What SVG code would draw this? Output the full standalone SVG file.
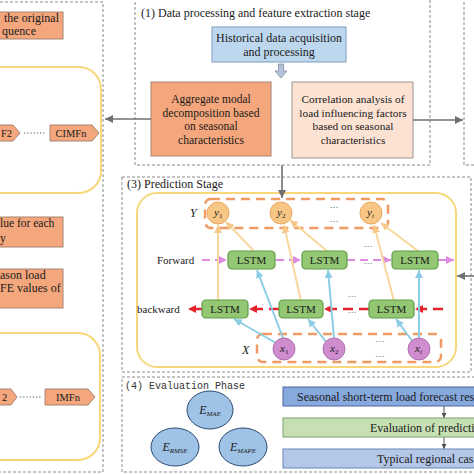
<svg xmlns="http://www.w3.org/2000/svg" width="474" height="474" viewBox="0 0 474 474">
<defs>
<style>
.sec{fill:none;stroke:#8a8a8a;stroke-width:1;stroke-dasharray:3 2}
.t{font-family:"Liberation Serif","Times New Roman",serif;fill:#1a1a1a}
.orange{fill:#f4a77c;stroke:#a88470;stroke-width:1}
.yel{fill:none;stroke:#f7d77a;stroke-width:2}
.lstm{fill:#93c774;stroke:#5e9e48;stroke-width:1.2}
.yc{fill:#f8c684;stroke:#e8a862;stroke-width:1}
.xc{fill:#cf8ccf;stroke:#b070b0;stroke-width:1}
.odash{fill:none;stroke:#ef9b63;stroke-width:2.5;stroke-dasharray:9 6}
.pink{stroke:#dd8ae0;stroke-width:2;stroke-dasharray:8 5;fill:none}
.red{stroke:#e3232b;stroke-width:2.5;stroke-dasharray:10 6;fill:none}
.yl{stroke:#f9d79a;stroke-width:2;fill:none}
.bl{stroke:#8ccde6;stroke-width:2;fill:none}
.grey{stroke:#707070;stroke-width:1.6;fill:none}
.ell{fill:#9fc3e6;stroke:#2b4a70;stroke-width:1}
</style>
<marker id="mg" markerUnits="userSpaceOnUse" markerWidth="8" markerHeight="8" refX="8" refY="4" orient="auto"><path d="M0,0 L8,4 L0,8 z" fill="#707070"/></marker>
<marker id="ms" markerUnits="userSpaceOnUse" markerWidth="5" markerHeight="5" refX="5" refY="2.5" orient="auto"><path d="M0,0 L5,2.5 L0,5 z" fill="#505050"/></marker>
<marker id="mp" markerUnits="userSpaceOnUse" markerWidth="8" markerHeight="8" refX="8" refY="4" orient="auto"><path d="M0,0 L8,4 L0,8 z" fill="#dd8ae0"/></marker>
<marker id="mr" markerUnits="userSpaceOnUse" markerWidth="8" markerHeight="8" refX="8" refY="4" orient="auto"><path d="M0,0 L8,4 L0,8 z" fill="#e3232b"/></marker>
<marker id="my" markerUnits="userSpaceOnUse" markerWidth="8" markerHeight="8" refX="8" refY="4" orient="auto"><path d="M0,0 L8,4 L0,8 z" fill="#f5c98a"/></marker>
<marker id="mb" markerUnits="userSpaceOnUse" markerWidth="8" markerHeight="8" refX="8" refY="4" orient="auto"><path d="M0,0 L8,4 L0,8 z" fill="#8ccde6"/></marker>
</defs>
<rect width="474" height="474" fill="#ffffff"/>

<!-- section frames -->
<g id="frames">
<rect class="sec" x="-5" y="2" width="108" height="470"/>
<rect class="sec" x="135" y="-5" width="295" height="170"/>
<rect class="sec" x="464" y="-5" width="30" height="170"/>
<rect class="sec" x="122" y="177" width="349" height="195"/>
<rect class="sec" x="122" y="377" width="360" height="95"/>
</g>

<!-- left column -->
<g id="left-seq">
<rect class="orange" x="-5" y="12" width="68" height="27"/>
<text class="t" x="4" y="22" font-size="12">the original</text>
<text class="t" x="2" y="35" font-size="12">quence</text>
</g>
<rect class="yel" x="-30" y="67" width="131" height="126" rx="22"/>
<g id="cimf2">
<path class="orange" d="M-5,125 H13 L20,133 L13,141 H-5 Z"/>
<text class="t" x="1" y="137" font-size="10.5">F2</text>
</g>
<line x1="24" y1="133" x2="46" y2="133" stroke="#555" stroke-width="1" stroke-dasharray="1.2 2"/>
<g id="cimfn">
<path class="orange" d="M50,125 H92 L99,133 L92,141 H50 Z"/>
<text class="t" x="71" y="137" font-size="10.5" text-anchor="middle">CIMFn</text>
</g>
<g id="left-value">
<rect class="orange" x="-5" y="217" width="68" height="30"/>
<text class="t" x="0" y="227" font-size="11.5">lue for each</text>
<text class="t" x="0" y="242" font-size="11.5">y</text>
</g>
<g id="left-season">
<rect class="orange" x="-5" y="269" width="68" height="39"/>
<text class="t" x="0" y="279" font-size="12">ason load</text>
<text class="t" x="0" y="292" font-size="12">FE values of</text>
</g>
<rect class="yel" x="-30" y="333" width="130" height="127" rx="22"/>
<g id="imf2">
<path class="orange" d="M-5,389 H11 L17,397 L11,405 H-5 Z"/>
<text class="t" x="2" y="401" font-size="10.5">2</text>
</g>
<line x1="20" y1="397" x2="42" y2="397" stroke="#555" stroke-width="1" stroke-dasharray="1.2 2"/>
<g id="imfn">
<path class="orange" d="M45,389 H88 L95,397 L88,405 H45 Z"/>
<text class="t" x="68" y="401" font-size="10.5" text-anchor="middle">IMFn</text>
</g>

<!-- section 1 -->
<text class="t" x="141" y="17" font-size="12">(1) Data processing and feature extraction stage</text>
<g id="historical">
<rect x="212" y="27" width="134" height="35" fill="#bdd7ee" stroke="#7f9cbc" stroke-width="1"/>
<text class="t" x="279" y="42" font-size="12" text-anchor="middle">Historical data acquisition</text>
<text class="t" x="279" y="56" font-size="12" text-anchor="middle">and processing</text>
</g>
<path d="M278.5,64 H283.5 V71 H287 L281,78 L275,71 H278.5 Z" fill="#b4c2d8" stroke="#7f8fa8" stroke-width="0.8"/>
<g id="aggregate">
<rect x="151" y="82" width="120" height="74" fill="#f4a77c" stroke="#a88470" stroke-width="1"/>
<text class="t" font-size="11.5" text-anchor="middle"><tspan x="211" y="103">Aggregate modal</tspan><tspan x="211" y="117">decomposition based</tspan><tspan x="211" y="130">on seasonal</tspan><tspan x="211" y="144">characteristics</tspan></text>
</g>
<g id="correlation">
<rect x="292" y="82" width="121" height="76" fill="#fbe2d3" stroke="#9c948e" stroke-width="1"/>
<text class="t" font-size="11.3" text-anchor="middle"><tspan x="353" y="103">Correlation analysis of</tspan><tspan x="353" y="117">load influencing factors</tspan><tspan x="353" y="130">based on seasonal</tspan><tspan x="353" y="144">characteristics</tspan></text>
</g>

<!-- section 3 -->
<text class="t" x="127" y="188" font-size="12">(3) Prediction Stage</text>
<rect class="yel" x="137" y="193" width="319" height="174" rx="20"/>
<rect class="odash" x="205" y="199" width="183" height="29" rx="6"/>
<rect class="odash" x="257" y="334" width="184" height="28" rx="6"/>
<text class="t" x="190" y="217" font-size="12" font-style="italic">Y</text>
<text class="t" x="242" y="354" font-size="12" font-style="italic">X</text>
<text class="t" x="157" y="264" font-size="11">Forward</text>
<text class="t" x="137" y="313" font-size="11">backward</text>

<g id="connectors">
<line class="grey" x1="151" y1="119" x2="105" y2="119" marker-end="url(#mg)"/>
<line class="grey" x1="413" y1="120" x2="463" y2="120" marker-end="url(#mg)"/>
<line class="grey" x1="282" y1="165" x2="282" y2="198" marker-end="url(#mg)"/>
<line class="grey" x1="476" y1="276" x2="457" y2="276" marker-end="url(#mg)"/>
<!-- forward -->
<line class="pink" x1="202" y1="260" x2="227" y2="260" marker-end="url(#mp)"/>
<line class="pink" x1="276" y1="260" x2="301" y2="260" marker-end="url(#mp)"/>
<line class="pink" x1="347" y1="260" x2="391" y2="260" marker-end="url(#mp)"/>
<line class="pink" x1="438" y1="260" x2="454" y2="260" marker-end="url(#mp)"/>
<!-- backward -->
<line class="red" x1="443" y1="309" x2="415" y2="309" marker-end="url(#mr)"/>
<line class="red" x1="369" y1="309" x2="324" y2="309" marker-end="url(#mr)"/>
<line class="red" x1="279" y1="309" x2="249" y2="309" marker-end="url(#mr)"/>
<line class="red" x1="202" y1="309" x2="188" y2="309" marker-end="url(#mr)"/>
<!-- outputs -->
<line class="yl" x1="218" y1="301" x2="218" y2="225" marker-end="url(#my)"/>
<line class="yl" x1="254" y1="251" x2="226" y2="222" marker-end="url(#my)"/>
<line class="yl" x1="301" y1="301" x2="284" y2="225" marker-end="url(#my)"/>
<line class="yl" x1="327" y1="251" x2="290" y2="220" marker-end="url(#my)"/>
<line class="yl" x1="394" y1="301" x2="374" y2="225" marker-end="url(#my)"/>
<line class="yl" x1="418" y1="251" x2="381" y2="223" marker-end="url(#my)"/>
<!-- inputs -->
<line class="bl" x1="283" y1="338" x2="257" y2="270" marker-end="url(#mb)"/>
<line class="bl" x1="276" y1="343" x2="234" y2="319" marker-end="url(#mb)"/>
<line class="bl" x1="334" y1="338" x2="328" y2="270" marker-end="url(#mb)"/>
<line class="bl" x1="327" y1="343" x2="308" y2="319" marker-end="url(#mb)"/>
<line class="bl" x1="419" y1="338" x2="419" y2="270" marker-end="url(#mb)"/>
<line class="bl" x1="413" y1="342" x2="396" y2="319" marker-end="url(#mb)"/>
<!-- evaluation -->
<line x1="444" y1="406" x2="444" y2="418" stroke="#505050" stroke-width="1" marker-end="url(#ms)"/>
<line x1="444" y1="437" x2="444" y2="449" stroke="#505050" stroke-width="1" marker-end="url(#ms)"/>
</g>

<g id="f-lstm1"><rect class="lstm" x="228" y="251" width="47" height="18" rx="4"/><text class="t" x="251.5" y="264" font-size="11" text-anchor="middle">LSTM</text></g>
<g id="f-lstm2"><rect class="lstm" x="302" y="251" width="45" height="18" rx="4"/><text class="t" x="324.5" y="264" font-size="11" text-anchor="middle">LSTM</text></g>
<g id="f-lstm3"><rect class="lstm" x="392" y="251" width="46" height="18" rx="4"/><text class="t" x="415" y="264" font-size="11" text-anchor="middle">LSTM</text></g>
<g id="b-lstm1"><rect class="lstm" x="202" y="300" width="46" height="18" rx="4"/><text class="t" x="225" y="313" font-size="11" text-anchor="middle">LSTM</text></g>
<g id="b-lstm2"><rect class="lstm" x="279" y="300" width="44" height="18" rx="4"/><text class="t" x="301" y="313" font-size="11" text-anchor="middle">LSTM</text></g>
<g id="b-lstm3"><rect class="lstm" x="369" y="300" width="45" height="18" rx="4"/><text class="t" x="391.5" y="313" font-size="11" text-anchor="middle">LSTM</text></g>

<g id="y1"><circle class="yc" cx="218" cy="213" r="11"/><text class="t" x="214" y="216" font-size="11" font-style="italic">y<tspan font-size="7" dy="2" font-style="normal">1</tspan></text></g>
<g id="y2"><circle class="yc" cx="281" cy="213" r="11"/><text class="t" x="277" y="216" font-size="11" font-style="italic">y<tspan font-size="7" dy="2" font-style="normal">2</tspan></text></g>
<g id="yt"><circle class="yc" cx="371" cy="213" r="11"/><text class="t" x="367" y="216" font-size="11" font-style="italic">y<tspan font-size="7" dy="2">t</tspan></text></g>
<g id="x1"><circle class="xc" cx="284" cy="349" r="11"/><text class="t" x="280" y="352" font-size="11" font-style="italic">x<tspan font-size="7" dy="2" font-style="normal">1</tspan></text></g>
<g id="x2"><circle class="xc" cx="334" cy="349" r="11"/><text class="t" x="330" y="352" font-size="11" font-style="italic">x<tspan font-size="7" dy="2" font-style="normal">2</tspan></text></g>
<g id="xt"><circle class="xc" cx="419" cy="349" r="11"/><text class="t" x="415" y="352" font-size="11" font-style="italic">x<tspan font-size="7" dy="2">t</tspan></text></g>

<g font-family="Liberation Serif, serif" font-size="9" fill="#333" text-anchor="middle">
<text x="334" y="210">···</text><text x="334" y="224">···</text>
<text x="368" y="249">···</text><text x="368" y="266">···</text>
<text x="352" y="299">···</text><text x="352" y="315">···</text>
<text x="380" y="344">···</text><text x="380" y="359">···</text>
</g>

<!-- section 4 -->
<text x="125" y="389" font-family="Liberation Mono, monospace" font-size="10" fill="#333">(4) Evaluation Phase</text>
<g id="e-mae"><ellipse class="ell" cx="210" cy="410" rx="23" ry="19"/><text class="t" x="210" y="414" font-size="12" font-style="italic" text-anchor="middle">E<tspan font-size="7" dy="2">MAE</tspan></text></g>
<g id="e-rmse"><ellipse class="ell" cx="175" cy="447" rx="24" ry="19"/><text class="t" x="175" y="451" font-size="12" font-style="italic" text-anchor="middle">E<tspan font-size="7" dy="2">RMSE</tspan></text></g>
<g id="e-mape"><ellipse class="ell" cx="243" cy="447" rx="24" ry="19"/><text class="t" x="243" y="451" font-size="12" font-style="italic" text-anchor="middle">E<tspan font-size="7" dy="2">MAPE</tspan></text></g>
<g id="results"><rect x="283" y="387" width="200" height="19" fill="#87a9dd" stroke="#4a66a0" stroke-width="1"/><text class="t" x="297" y="401" font-size="12">Seasonal short-term load forecast res</text></g>
<g id="evaluation"><rect x="283" y="418" width="200" height="19" fill="#c6e0b4" stroke="#7f9f6f" stroke-width="1"/><text class="t" x="370" y="432" font-size="12">Evaluation of predicti</text></g>
<g id="typical"><rect x="283" y="449" width="200" height="19" fill="#b4c7e8" stroke="#6a86b4" stroke-width="1"/><text class="t" x="377" y="463" font-size="12">Typical regional cas</text></g>
</svg>
